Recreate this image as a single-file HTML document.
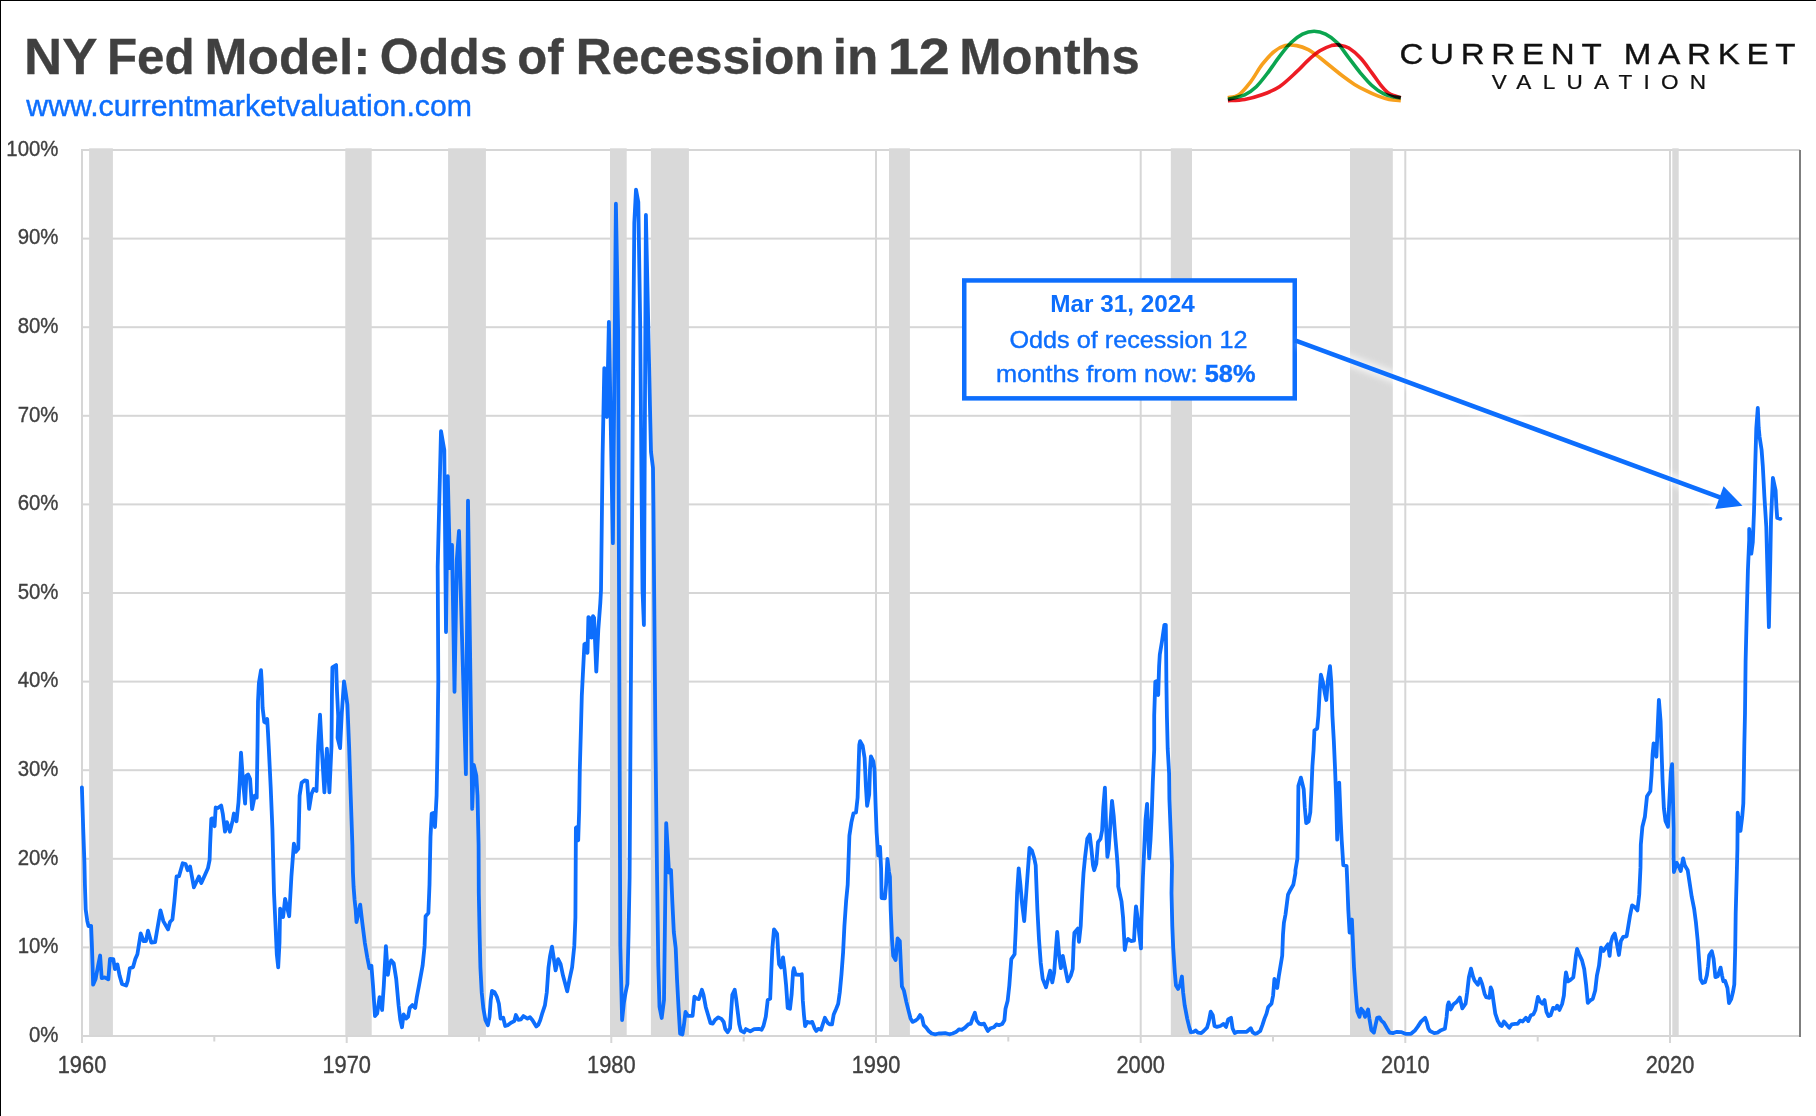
<!DOCTYPE html>
<html><head><meta charset="utf-8"><title>NY Fed Model: Odds of Recession in 12 Months</title>
<style>
html,body{margin:0;padding:0;background:#fff;}
body{width:1816px;height:1116px;position:relative;overflow:hidden;font-family:"Liberation Sans",sans-serif;}
</style></head><body>
<svg width="1816" height="1116" viewBox="0 0 1816 1116" style="position:absolute;left:0;top:0;font-family:'Liberation Sans',sans-serif">
<rect x="0" y="0" width="1816" height="1116" fill="#fff"/>
<rect x="81" y="1035.0" width="1719" height="2" fill="#D6D6D6"/>
<rect x="81" y="946.4" width="1719" height="2" fill="#D6D6D6"/>
<rect x="81" y="857.8" width="1719" height="2" fill="#D6D6D6"/>
<rect x="81" y="769.2" width="1719" height="2" fill="#D6D6D6"/>
<rect x="81" y="680.6" width="1719" height="2" fill="#D6D6D6"/>
<rect x="81" y="592.0" width="1719" height="2" fill="#D6D6D6"/>
<rect x="81" y="503.4" width="1719" height="2" fill="#D6D6D6"/>
<rect x="81" y="414.8" width="1719" height="2" fill="#D6D6D6"/>
<rect x="81" y="326.2" width="1719" height="2" fill="#D6D6D6"/>
<rect x="81" y="237.6" width="1719" height="2" fill="#D6D6D6"/>
<rect x="81" y="149.0" width="1719" height="2" fill="#D6D6D6"/>
<rect x="81.0" y="149" width="2" height="888" fill="#D6D6D6"/>
<rect x="345.7" y="149" width="2" height="888" fill="#D6D6D6"/>
<rect x="610.3" y="149" width="2" height="888" fill="#D6D6D6"/>
<rect x="875.0" y="149" width="2" height="888" fill="#D6D6D6"/>
<rect x="1139.7" y="149" width="2" height="888" fill="#D6D6D6"/>
<rect x="1404.3" y="149" width="2" height="888" fill="#D6D6D6"/>
<rect x="1669.0" y="149" width="2" height="888" fill="#D6D6D6"/>
<rect x="81.0" y="1036" width="2" height="7" fill="#D6D6D6"/>
<rect x="213.3" y="1036" width="2" height="5.5" fill="#D6D6D6"/>
<rect x="345.7" y="1036" width="2" height="7" fill="#D6D6D6"/>
<rect x="478.0" y="1036" width="2" height="5.5" fill="#D6D6D6"/>
<rect x="610.3" y="1036" width="2" height="7" fill="#D6D6D6"/>
<rect x="742.7" y="1036" width="2" height="5.5" fill="#D6D6D6"/>
<rect x="875.0" y="1036" width="2" height="7" fill="#D6D6D6"/>
<rect x="1007.3" y="1036" width="2" height="5.5" fill="#D6D6D6"/>
<rect x="1139.7" y="1036" width="2" height="7" fill="#D6D6D6"/>
<rect x="1272.0" y="1036" width="2" height="5.5" fill="#D6D6D6"/>
<rect x="1404.3" y="1036" width="2" height="7" fill="#D6D6D6"/>
<rect x="1536.7" y="1036" width="2" height="5.5" fill="#D6D6D6"/>
<rect x="1669.0" y="1036" width="2" height="7" fill="#D6D6D6"/>
<rect x="89.1" y="148.3" width="23.8" height="886.7" fill="#D9D9D9"/>
<rect x="345.4" y="148.3" width="26.3" height="886.7" fill="#D9D9D9"/>
<rect x="448.1" y="148.3" width="37.8" height="886.7" fill="#D9D9D9"/>
<rect x="610.0" y="148.3" width="16.7" height="886.7" fill="#D9D9D9"/>
<rect x="650.9" y="148.3" width="38.0" height="886.7" fill="#D9D9D9"/>
<rect x="889.0" y="148.3" width="20.9" height="886.7" fill="#D9D9D9"/>
<rect x="1170.8" y="148.3" width="21.2" height="886.7" fill="#D9D9D9"/>
<rect x="1350.0" y="148.3" width="42.8" height="886.7" fill="#D9D9D9"/>
<rect x="1672.3" y="148.3" width="6.4" height="886.7" fill="#D9D9D9"/>
<rect x="1799" y="150" width="2" height="887" fill="#7F7F7F"/>
<text transform="translate(58.5,1041.8) scale(0.915,1)" x="0" y="0" font-size="22.3" text-anchor="end" fill="#404040" stroke="#404040" stroke-width="0.35" id="yl0">0%</text>
<text transform="translate(58.5,953.2) scale(0.915,1)" x="0" y="0" font-size="22.3" text-anchor="end" fill="#404040" stroke="#404040" stroke-width="0.35" id="yl10">10%</text>
<text transform="translate(58.5,864.6) scale(0.915,1)" x="0" y="0" font-size="22.3" text-anchor="end" fill="#404040" stroke="#404040" stroke-width="0.35" id="yl20">20%</text>
<text transform="translate(58.5,776.0) scale(0.915,1)" x="0" y="0" font-size="22.3" text-anchor="end" fill="#404040" stroke="#404040" stroke-width="0.35" id="yl30">30%</text>
<text transform="translate(58.5,687.4) scale(0.915,1)" x="0" y="0" font-size="22.3" text-anchor="end" fill="#404040" stroke="#404040" stroke-width="0.35" id="yl40">40%</text>
<text transform="translate(58.5,598.8) scale(0.915,1)" x="0" y="0" font-size="22.3" text-anchor="end" fill="#404040" stroke="#404040" stroke-width="0.35" id="yl50">50%</text>
<text transform="translate(58.5,510.2) scale(0.915,1)" x="0" y="0" font-size="22.3" text-anchor="end" fill="#404040" stroke="#404040" stroke-width="0.35" id="yl60">60%</text>
<text transform="translate(58.5,421.6) scale(0.915,1)" x="0" y="0" font-size="22.3" text-anchor="end" fill="#404040" stroke="#404040" stroke-width="0.35" id="yl70">70%</text>
<text transform="translate(58.5,333.0) scale(0.915,1)" x="0" y="0" font-size="22.3" text-anchor="end" fill="#404040" stroke="#404040" stroke-width="0.35" id="yl80">80%</text>
<text transform="translate(58.5,244.4) scale(0.915,1)" x="0" y="0" font-size="22.3" text-anchor="end" fill="#404040" stroke="#404040" stroke-width="0.35" id="yl90">90%</text>
<text transform="translate(58.5,155.8) scale(0.915,1)" x="0" y="0" font-size="22.3" text-anchor="end" fill="#404040" stroke="#404040" stroke-width="0.35" id="yl100">100%</text>
<text transform="translate(82.0,1073.2) scale(0.95,1)" x="0" y="0" font-size="23" text-anchor="middle" fill="#404040" stroke="#404040" stroke-width="0.35" id="xl1960">1960</text>
<text transform="translate(346.7,1073.2) scale(0.95,1)" x="0" y="0" font-size="23" text-anchor="middle" fill="#404040" stroke="#404040" stroke-width="0.35" id="xl1970">1970</text>
<text transform="translate(611.3,1073.2) scale(0.95,1)" x="0" y="0" font-size="23" text-anchor="middle" fill="#404040" stroke="#404040" stroke-width="0.35" id="xl1980">1980</text>
<text transform="translate(876.0,1073.2) scale(0.95,1)" x="0" y="0" font-size="23" text-anchor="middle" fill="#404040" stroke="#404040" stroke-width="0.35" id="xl1990">1990</text>
<text transform="translate(1140.7,1073.2) scale(0.95,1)" x="0" y="0" font-size="23" text-anchor="middle" fill="#404040" stroke="#404040" stroke-width="0.35" id="xl2000">2000</text>
<text transform="translate(1405.3,1073.2) scale(0.95,1)" x="0" y="0" font-size="23" text-anchor="middle" fill="#404040" stroke="#404040" stroke-width="0.35" id="xl2010">2010</text>
<text transform="translate(1670.0,1073.2) scale(0.95,1)" x="0" y="0" font-size="23" text-anchor="middle" fill="#404040" stroke="#404040" stroke-width="0.35" id="xl2020">2020</text>
<polyline points="81.9,787.4 83.2,828.7 84.4,861.7 84.9,884.8 85.7,909.6 87.3,921.1 88.5,926.1 91.1,925.8 91.8,942.6 92.6,965.7 93.1,984.7 95.6,978.9 98.1,965.7 100.1,955.5 101.7,978.1 104.7,977.3 108.3,979.3 110.0,958.8 113.3,959.1 114.9,969.0 117.4,964.4 119.6,975.6 122.0,983.9 126.2,985.6 127.8,980.6 129.8,968.2 133.1,967.1 135.3,959.1 137.4,954.2 140.7,933.5 143.5,941.0 146.0,941.0 148.0,930.7 151.3,942.6 155.1,942.1 160.5,910.4 163.3,921.1 168.0,929.4 170.0,922.0 172.4,919.5 174.4,901.3 176.6,876.5 179.0,876.2 182.7,863.3 185.6,864.1 187.6,870.2 190.1,866.6 193.9,887.3 198.9,876.5 201.3,883.1 204.6,875.7 207.9,868.3 209.6,860.0 210.1,845.2 211.3,818.8 212.4,818.4 214.6,826.2 215.7,807.5 217.9,808.0 221.2,805.6 222.8,813.8 225.0,831.7 226.9,822.1 229.9,831.7 232.7,820.4 233.9,813.5 236.5,821.3 238.5,802.3 239.8,779.1 241.0,752.7 243.1,782.4 245.1,803.6 246.4,775.8 248.1,774.5 250.1,779.1 252.1,809.2 254.7,795.6 256.7,797.6 257.5,746.1 258.0,701.5 258.9,683.0 261.0,670.2 261.8,683.0 262.6,707.8 264.3,721.9 265.5,722.7 267.2,719.0 268.0,732.6 268.7,746.1 270.7,787.4 272.4,828.7 274.0,893.0 275.7,929.4 276.8,954.2 278.2,967.4 279.5,942.6 280.1,908.7 283.1,917.0 285.1,898.8 289.2,916.2 291.4,876.5 293.9,843.6 295.8,851.8 298.3,848.8 299.6,795.6 301.6,782.8 304.6,780.4 307.1,780.8 309.1,808.9 311.5,794.0 313.7,789.0 316.5,791.0 318.1,746.1 320.0,714.7 321.9,751.0 324.4,792.3 326.9,748.6 329.4,792.3 331.5,746.1 331.9,696.5 332.4,667.3 336.1,665.0 337.0,691.3 338.2,716.1 337.6,737.8 340.1,748.1 341.8,713.0 344.0,681.4 345.8,693.2 347.4,704.8 349.1,746.1 350.7,795.6 352.4,845.2 352.9,872 353.6,887 354.6,900 355.7,910 356.5,922.0 357.8,916.2 360.2,904.6 362.3,922.8 364.8,942.6 367.3,957.5 369.4,968.2 371.4,965.7 373.0,985.6 375.0,1016.1 377.2,1013.6 379.6,997.1 382.1,1010.0 383.8,985.6 385.9,946.2 387.9,974.8 389.2,965.7 391.2,960.4 393.7,963.3 396.2,978.9 398.6,1005.4 400.3,1019.9 402.0,1027.2 403.6,1014.5 406.1,1018.6 408.1,1016.9 409.7,1007.9 412.4,1005.1 415.2,1007.9 416.8,997.1 419.3,983.9 422.6,965.7 424.6,945.9 425.6,916.2 428.4,912.9 429.5,884.8 430.0,860.0 430.5,836.9 431.7,813.5 433.3,813.0 435.0,827.0 436.6,795.6 437.5,746.1 438.3,680.0 437.7,567.0 441.0,431.2 444.3,450 446,632 447.8,476.2 450,568 452,545 454.5,691.8 456.8,560 459,531 465.9,774.2 468,500.6 472.2,808.9 473.8,765 476.3,775.8 477.5,795.6 478.6,845 478.8,893.0 479.6,934.3 480.4,967.4 481.7,992.2 483.4,1008.7 485.4,1019.9 487.9,1025.2 489.5,1016.9 490.7,1000.4 492.0,990.8 494.5,992.2 496.9,996.8 498.9,1003.7 500.6,1018.6 503.2,1017.8 505.2,1026.0 507.7,1025.2 511.0,1022.7 514.3,1021.1 515.9,1015.0 518.4,1019.9 520.9,1019.4 523.4,1016.1 527.5,1018.6 530.0,1017.3 532.5,1020.3 536.3,1026.5 538.2,1024.9 540.2,1020.3 542.4,1012.8 544.9,1005.4 546.8,992.2 548.5,967.4 550.1,955.8 552.0,946.7 553.9,959.1 555.6,970.4 558.1,959.1 560.6,964.1 563.0,975.6 567.2,991.3 569.6,978.9 572.1,967.4 574.3,945.9 575.4,917.8 575.9,827.8 576.9,827.1 578.2,840.3 579.2,809.3 579.8,769.6 580.9,730.0 581.8,695.7 583.8,656.1 584.4,644.2 585.8,643.5 587.5,652.8 588.4,617.1 590.1,618.4 591.5,637.6 593.0,616.2 594.1,617.8 596.3,671.7 598.3,629.6 600.3,603.2 601.0,590.0 602.6,455 604.3,368.1 606.9,417 608.9,321.9 612.9,543.2 615.9,203.7 618.1,330 620.3,945 622.1,1020 623.9,1002.6 625.5,993.2 627.4,983.8 628.6,932 629.6,877 630.5,737 631.5,597 632.5,457 633.5,317 634.3,222.9 636,189.6 638.3,202 640.2,325 641.4,470 642.5,590 643.9,625 645.9,214.9 648.1,318 650.3,422 651,452 653,468 653.4,503 654.2,597 655.4,737 657,872 658.3,965 659.5,1007 661.7,1018 664,1000 666.2,823.2 667.7,848.9 669,872.7 671,870 672.3,901 673.8,932 675.7,948 677,979 678.5,1007 680.1,1033.7 682.4,1034.5 684,1024.4 685.5,1011.9 687.9,1015.8 692.6,1015.8 694.4,996.6 696.5,998.7 698.8,999.1 701.9,989.8 703.5,994.8 705.8,1007.2 708.1,1015.0 710.5,1023.1 712.8,1023.6 715.2,1019.7 718.3,1017.4 721.4,1018.9 723.7,1022.0 725.3,1029.1 727.6,1032.2 730.0,1028.3 732.3,994.8 734.7,989.8 736.2,999.4 739.3,1024.4 740.9,1030.6 744.0,1032.5 745.9,1029.1 750.3,1031.4 754.2,1029.1 758.8,1028.8 761.5,1029.8 763.5,1025.9 765.8,1016.6 767.7,1000.2 770.2,998.7 771.3,971.4 772.4,948.0 774.0,929.3 777.1,933.9 778.3,954.2 779.1,964.3 781.1,967.5 783.0,957.3 784.6,969.8 786.1,985.4 787.7,1008.0 790.0,1008.8 791.6,994.8 793.1,971.4 793.9,968.2 795.5,974.5 800.0,974.8 801.8,974.3 802.8,1000.4 804.0,1015.3 805.1,1026.0 807.3,1021.9 809.7,1022.7 812.2,1021.9 814.7,1028.5 816.3,1031.0 818.3,1028.8 821.0,1029.8 823.0,1023.6 824.9,1017.8 827.6,1022.7 829.6,1024.4 832.0,1024.4 833.7,1014.5 836.2,1008.7 838.2,1003.7 839.8,992.2 841.5,974.0 843.1,952.5 844.4,926.1 846.1,901.3 847.7,884.8 849.4,835.6 851.4,822.4 853.5,813.3 856.0,812.5 857.6,797.6 858.5,769.6 859.3,744.8 860.1,741.1 862.6,745.6 864.6,758.0 865.9,786.1 867.1,805.9 869.2,794.3 870.0,769.6 870.9,756.3 873.3,761.3 874.5,769.6 875.5,802.6 876.6,832.3 878.3,855.5 880.0,846.9 881.1,868.7 881.6,898.0 884.9,898.3 886.1,884.8 887.4,858.8 889.0,872.0 889.9,876.5 890.7,909.6 892.0,939.3 893.2,955.8 895.6,960.0 896.5,950.0 897.6,938.5 899.8,941.0 900.9,965.7 901.9,986.4 903.9,990.5 906.4,1002.1 908.9,1012.0 910.5,1018.3 912.5,1021.9 915.5,1020.6 917.9,1018.6 920.1,1015.0 922.1,1017.8 923.7,1025.2 926.2,1027.7 928.7,1031.0 931.7,1033.5 935.3,1034.3 938.6,1033.5 941.1,1033.5 945.2,1033.1 949.3,1034.3 952.6,1033.5 955.9,1032.1 959.2,1029.3 961.7,1029.8 965.0,1027.7 968.3,1024.4 970.8,1023.6 972.5,1018.6 974.9,1012.8 976.6,1020.3 979.1,1023.6 981.6,1024.4 984.0,1023.6 987.8,1031.0 990.6,1028.2 993.9,1027.2 996.4,1024.4 998.9,1025.2 1002.2,1023.9 1004.4,1020.3 1005.5,1008.7 1007.7,1000.4 1009.3,985.6 1011.3,959.1 1014.6,954.2 1015.9,926.1 1017.1,893.0 1018.7,868.3 1020.4,884.8 1022.0,903.0 1024.2,921.1 1029.5,848.0 1031.9,850.5 1034.4,858.8 1035.7,865.4 1036.1,876.5 1037.4,909.6 1039.0,939.3 1040.7,962.4 1042.7,978.9 1046.0,987.2 1048.5,977.3 1050.1,970.7 1052.3,982.3 1054.2,972.3 1055.6,952.5 1057.2,931.9 1059.2,955.8 1060.9,968.2 1062.8,955.8 1065.0,967.4 1067.8,981.4 1070.8,975.6 1072.7,969.0 1073.7,942.6 1074.4,932.7 1076.5,930.2 1077.8,928.6 1079.0,941.8 1080.7,926.1 1082.3,893.0 1083.5,873.2 1085.1,856.9 1087.3,838.8 1089.7,834.6 1091.4,848.7 1093.0,865.2 1094.2,870.2 1096.3,863.6 1098.0,842.1 1100.5,838.8 1102.1,830.5 1103.3,807.4 1104.9,787.6 1106.3,832.2 1107.4,856.9 1108.7,848.7 1110.4,823.9 1112.0,800.8 1113.7,815.6 1115.3,837.1 1117.0,856.9 1118.2,875.1 1118.2,886.4 1121.5,901.3 1123.1,917.8 1124.8,950.0 1126.1,942.6 1128.1,939.0 1131.0,941.0 1134.0,940.6 1135.2,917.8 1136.0,906.3 1137.6,917.8 1139.3,934.3 1141.0,948.4 1141.4,922 1142.9,877.5 1144.2,849.7 1145.5,820 1147.1,803.8 1148.4,840.4 1149.2,858.3 1150.5,840.4 1151.7,815.6 1152.8,782.6 1154.2,749.6 1154.2,715.6 1155.3,681.8 1157.0,681.0 1158.2,695.0 1159.1,666.1 1159.8,654.5 1162.0,641.3 1164.4,624.8 1165.8,624.8 1166.1,649.6 1166.4,682.6 1166.9,715.6 1167.7,748.7 1169.1,773.5 1169.4,799.1 1170.7,832.2 1172.0,865.2 1171.5,893.0 1172.3,926.1 1173.2,947.6 1174.8,972.3 1176.0,985.6 1178.1,988.9 1180.3,983.9 1181.9,976.5 1183.1,992.2 1184.7,1005.4 1187.2,1018.6 1189.2,1026.9 1190.8,1032.1 1193.5,1031.8 1195.8,1030.5 1197.9,1032.6 1201.3,1033.1 1203.7,1031.0 1207.0,1027.7 1208.7,1021.9 1210.7,1011.7 1212.8,1015.3 1214.5,1026.0 1216.9,1026.9 1220.3,1026.0 1223.6,1023.9 1226.0,1026.9 1228.2,1019.4 1231.0,1017.8 1232.6,1028.5 1234.8,1033.1 1237.6,1031.8 1241.7,1031.8 1246.7,1031.8 1250.8,1028.2 1252.5,1032.1 1254.9,1033.8 1257.4,1033.1 1260.2,1031.0 1262.4,1025.2 1264.5,1018.6 1266.5,1013.6 1268.2,1007.0 1271.5,1003.7 1273.1,995.5 1274.4,978.9 1277.2,988.0 1278.9,975.6 1282.2,955.8 1283.0,934.3 1283.9,922.8 1285.5,914.5 1288.0,894.7 1290.5,889.7 1293.3,884.8 1295.4,873.2 1295.4,870.2 1297.4,858.6 1297.9,832.2 1298.4,785.9 1300.9,777.6 1303.7,789.2 1304.8,807.4 1306.2,823.1 1308.6,821.4 1310.3,812.3 1311.4,790.9 1312.4,766.1 1313.6,749.6 1314.4,730.6 1317.2,728.4 1318.4,715.6 1319.7,690.9 1320.9,674.7 1323.0,682.6 1325.0,694.2 1326.3,700.0 1328.0,679.3 1330.0,666.1 1331.3,682.6 1332.4,715.6 1333.8,740.4 1334.9,765.2 1336.2,799.1 1337.2,839.6 1339.2,782.6 1340.5,815.6 1341.7,840.4 1343.3,865.2 1346.6,866.0 1347.4,884.8 1348.3,909.6 1349.6,932.7 1351.9,919.5 1352.9,942.6 1354.0,967.4 1355.7,992.2 1357.3,1011.2 1359.5,1016.9 1361.1,1008.7 1363.1,1011.2 1365.1,1016.9 1368.1,1009.5 1369.4,1018.6 1371.4,1030.2 1373.9,1032.6 1375.5,1025.2 1377.2,1017.8 1379.3,1017.3 1381.3,1020.6 1383.8,1022.7 1387.1,1028.5 1389.6,1032.6 1392.9,1033.1 1397.0,1031.8 1401.1,1032.1 1405.3,1033.8 1411.0,1033.8 1415.2,1030.2 1417.6,1026.9 1421.0,1021.6 1425.1,1017.8 1426.7,1021.9 1428.4,1028.5 1430.0,1031.0 1434.2,1033.1 1437.5,1032.6 1441.1,1030.2 1444.9,1028.8 1446.6,1016.9 1447.7,1005.4 1448.7,1002.4 1450.7,1009.5 1453.2,1004.6 1456.5,1002.1 1459.8,997.5 1462.3,1008.4 1465.6,1003.7 1467.2,992.2 1468.9,977.3 1471.0,968.7 1473.0,976.5 1474.6,980.6 1477.9,984.7 1480.1,978.6 1482.1,983.9 1484.6,993.8 1486.2,997.1 1489.5,997.9 1490.7,987.5 1492.0,990.5 1493.6,1002.1 1495.3,1013.6 1497.8,1021.1 1500.3,1025.2 1501.9,1026.0 1503.9,1021.6 1506.0,1023.9 1509.3,1027.7 1511.8,1024.4 1515.1,1023.9 1517.6,1023.9 1520.1,1020.6 1522.6,1021.6 1525.9,1017.8 1528.3,1021.1 1530.8,1015.3 1533.3,1014.5 1535.3,1010.3 1536.6,1003.7 1537.9,996.8 1539.9,1001.3 1542.4,1003.7 1544.5,1000.1 1546.5,1012.0 1548.5,1016.1 1550.6,1015.3 1553.1,1007.9 1555.6,1008.7 1557.2,1005.7 1559.4,1010.0 1562.2,1003.7 1563.9,995.5 1565.0,980.6 1566.0,972.3 1568.0,981.4 1570.5,979.8 1573.3,977.3 1574.6,967.4 1575.9,955.8 1577.1,948.9 1579.2,954.2 1582.0,960.4 1584.2,969.0 1586.2,985.6 1587.8,1002.9 1590.3,1000.4 1592.8,998.8 1595.2,990.5 1596.9,975.6 1599.0,965.7 1601.0,947.6 1603.5,950.9 1605.2,948.4 1608.0,944.3 1609.6,955.8 1610.9,942.6 1612.6,936.8 1614.7,933.5 1616.7,942.6 1618.9,955.0 1620.9,941.0 1623.3,936.8 1626.6,936.3 1628.3,926.1 1629.9,916.2 1632.1,905.4 1634.9,907.1 1637.4,910.4 1639.2,894.9 1640.5,867.4 1640.8,844.9 1642.4,826.7 1644.9,816.8 1647.0,796.2 1650.3,791.3 1651.5,775.6 1652.6,754.2 1653.6,743.5 1656.4,756.7 1657.6,729.5 1658.9,699.8 1660.6,721.2 1661.4,745.9 1662.5,778.9 1663.9,808.6 1665.5,820.9 1668.0,826.7 1669.6,795.4 1670.8,772.3 1672.1,764.1 1672.9,795.4 1673.6,828.4 1673.5,853 1673.9,872.0 1676.7,862.9 1678.9,866.5 1680.7,871.1 1683.1,858.3 1684.9,865.6 1687.7,870.2 1689.5,882.1 1691.7,896.7 1694.1,908.6 1695.9,922.3 1697.7,940.6 1699.0,958.9 1700.5,979.0 1702.6,983.0 1705.0,982.3 1706.9,975.3 1708.1,966.2 1709.2,955.2 1711.8,951.2 1713.6,958.9 1715.4,977.1 1717.8,976.2 1720.6,967.6 1722.0,975.3 1723.3,981.2 1725.1,980.8 1727.5,988.1 1729.0,1003.1 1731.2,999.1 1733.0,991.8 1734.3,984.5 1735.2,949.7 1735.7,913.1 1736.7,876.6 1737.4,849.1 1737.7,812.7 1740.5,830.8 1742.2,816.8 1743.3,803.6 1743.8,778.9 1744.3,745.9 1745.0,713.0 1745.6,661.8 1746.7,616.1 1747.9,570.5 1749.2,540.0 1749.2,528.9 1750.2,542.3 1751.3,553.7 1752.8,542.3 1754.0,511.8 1755.2,466.1 1756.3,428.1 1757.8,408.0 1758.7,428 1759.6,437 1761.6,450 1762.8,466 1764.4,496.6 1766.3,527 1768.9,627.1 1770.3,560 1771.0,520 1772.9,477.8 1775.6,490.3 1776.4,506.6 1777.2,518 1780.4,518.8" fill="none" stroke="#0D6EFD" stroke-width="3.8" stroke-linejoin="round" stroke-linecap="round"/>
<rect x="964.25" y="280.45" width="330.5" height="117.9" fill="#fff" stroke="#0D6EFD" stroke-width="4.5"/>
<defs><filter id="glow" x="-5%" y="-20%" width="110%" height="140%"><feGaussianBlur stdDeviation="3"/></filter></defs>
<g filter="url(#glow)" opacity="0.7"><line x1="1299" y1="341.8" x2="1724" y2="498.9" stroke="#fff" stroke-width="11"/><polygon points="1746,507 1723,482 1711,512" fill="#fff"/></g>
<line x1="1295" y1="340.3" x2="1724" y2="498.9" stroke="#0D6EFD" stroke-width="4.6"/>
<polygon points="1742.5,505.7 1723.6,486.2 1715.2,509" fill="#0D6EFD"/>
<text id="an1" x="1050.3" y="311.7" font-size="24" font-weight="bold" fill="#0D6EFD" textLength="144.6" lengthAdjust="spacingAndGlyphs">Mar 31, 2024</text>
<text id="an2" x="1009.5" y="347.6" font-size="24" fill="#0D6EFD" stroke="#0D6EFD" stroke-width="0.4" textLength="238.1" lengthAdjust="spacingAndGlyphs">Odds of recession 12</text>
<text id="an3" x="996.1" y="381.6" font-size="24" fill="#0D6EFD" stroke="#0D6EFD" stroke-width="0.4" textLength="259.4" lengthAdjust="spacingAndGlyphs">months from now: <tspan font-weight="bold">58%</tspan></text>
<text id="tw0" x="24.06" y="74.4" font-size="50" font-weight="bold" fill="#404040" stroke="#404040" stroke-width="0.3" textLength="73.42" lengthAdjust="spacingAndGlyphs">NY</text>
<text id="tw1" x="106.93" y="74.4" font-size="50" font-weight="bold" fill="#404040" stroke="#404040" stroke-width="0.3" textLength="87.81" lengthAdjust="spacingAndGlyphs">Fed</text>
<text id="tw2" x="204.58" y="74.4" font-size="50" font-weight="bold" fill="#404040" stroke="#404040" stroke-width="0.3" textLength="165.87" lengthAdjust="spacingAndGlyphs">Model:</text>
<text id="tw3" x="379.80" y="74.4" font-size="50" font-weight="bold" fill="#404040" stroke="#404040" stroke-width="0.3" textLength="127.64" lengthAdjust="spacingAndGlyphs">Odds</text>
<text id="tw4" x="517.31" y="74.4" font-size="50" font-weight="bold" fill="#404040" stroke="#404040" stroke-width="0.3" textLength="46.31" lengthAdjust="spacingAndGlyphs">of</text>
<text id="tw5" x="575.74" y="74.4" font-size="50" font-weight="bold" fill="#404040" stroke="#404040" stroke-width="0.3" textLength="249.01" lengthAdjust="spacingAndGlyphs">Recession</text>
<text id="tw6" x="832.70" y="74.4" font-size="50" font-weight="bold" fill="#404040" stroke="#404040" stroke-width="0.3" textLength="45.56" lengthAdjust="spacingAndGlyphs">in</text>
<text id="tw7" x="887.76" y="74.4" font-size="50" font-weight="bold" fill="#404040" stroke="#404040" stroke-width="0.3" textLength="62.12" lengthAdjust="spacingAndGlyphs">12</text>
<text id="tw8" x="959.32" y="74.4" font-size="50" font-weight="bold" fill="#404040" stroke="#404040" stroke-width="0.3" textLength="180.49" lengthAdjust="spacingAndGlyphs">Months</text>
<text id="sub" x="26.3" y="116.3" font-size="30" fill="#0D6EFD" stroke="#0D6EFD" stroke-width="0.4" textLength="445.7" lengthAdjust="spacingAndGlyphs">www.currentmarketvaluation.com</text>
<g fill="none" stroke-width="3.6" style="isolation:isolate">
<path d="M1227.9,97.7 C1229.8,97.2 1235.2,97.4 1238.9,94.8 C1242.7,92.2 1246.6,87.1 1250.5,82.1 C1254.3,77.1 1258.2,69.7 1262.0,64.7 C1265.9,59.7 1269.7,55.2 1273.6,52.0 C1277.5,48.8 1281.3,46.7 1285.2,45.6 C1289.0,44.6 1292.9,45.0 1296.7,45.6 C1300.6,46.3 1304.4,47.7 1308.3,49.7 C1312.1,51.7 1316.0,54.9 1319.9,57.8 C1323.7,60.7 1327.6,64.0 1331.4,67.0 C1335.3,70.1 1339.1,73.4 1343.0,76.3 C1346.8,79.2 1350.7,82.0 1354.5,84.4 C1358.4,86.8 1362.3,88.8 1366.1,90.7 C1370.0,92.7 1373.8,94.5 1377.7,95.9 C1381.5,97.4 1385.4,98.6 1389.2,99.4 C1393.1,100.2 1398.9,100.4 1400.8,100.6" stroke="#F7A01D" style="mix-blend-mode:multiply"/>
<path d="M1227.9,100.6 C1230.7,100.4 1239.0,100.4 1244.7,99.4 C1250.4,98.4 1256.3,96.9 1262.0,94.8 C1267.8,92.7 1273.6,90.5 1279.4,86.7 C1285.2,82.8 1291.9,76.1 1296.7,71.7 C1301.5,67.2 1304.4,63.6 1308.3,60.1 C1312.1,56.6 1316.0,53.3 1319.9,50.8 C1323.7,48.4 1328.1,46.6 1331.4,45.6 C1334.7,44.7 1336.6,44.7 1339.5,45.1 C1342.4,45.5 1345.3,45.8 1348.8,48.0 C1352.2,50.1 1356.5,53.6 1360.3,57.8 C1364.2,61.9 1368.4,68.2 1371.9,72.8 C1375.4,77.4 1378.2,82.1 1381.1,85.5 C1384.0,89.0 1386.0,91.6 1389.2,93.6 C1392.5,95.7 1398.9,97.0 1400.8,97.7" stroke="#ED1C24" style="mix-blend-mode:multiply"/>
<path d="M1227.9,99.4 C1230.7,98.6 1240.0,96.9 1244.7,94.8 C1249.4,92.7 1252.4,90.4 1256.3,86.7 C1260.1,83.0 1264.0,77.8 1267.8,72.8 C1271.7,67.8 1275.5,61.6 1279.4,56.6 C1283.2,51.6 1287.1,46.5 1290.9,42.8 C1294.8,39.0 1298.7,36.0 1302.5,34.1 C1306.4,32.2 1310.2,31.2 1314.1,31.2 C1317.9,31.2 1321.8,32.2 1325.6,34.1 C1329.5,36.0 1333.3,38.8 1337.2,42.8 C1341.1,46.7 1344.9,52.8 1348.8,57.8 C1352.6,62.8 1356.5,68.2 1360.3,72.8 C1364.2,77.4 1368.0,82.1 1371.9,85.5 C1375.7,89.0 1379.6,91.7 1383.5,93.6 C1387.3,95.6 1392.1,96.4 1395.0,97.1 C1397.9,97.8 1399.8,97.6 1400.8,97.7" stroke="#0BA54F" style="mix-blend-mode:multiply"/>
</g>
<text id="lg1" transform="translate(1399.4,63.7) scale(1.12,1)" x="0" y="0" font-size="29.6" fill="#111" stroke="#111" stroke-width="0.35" textLength="353.7" lengthAdjust="spacing">CURRENT MARKET</text>
<text id="lg2" transform="translate(1491.8,89.3) scale(1.1,1)" x="0" y="0" font-size="20.5" fill="#111" stroke="#111" stroke-width="0.25" textLength="194.7" lengthAdjust="spacing">VALUATION</text>
<rect x="0" y="0" width="1816" height="1" fill="#000"/>
<rect x="0" y="0" width="1" height="1116" fill="#000"/>
</svg>
</body></html>
